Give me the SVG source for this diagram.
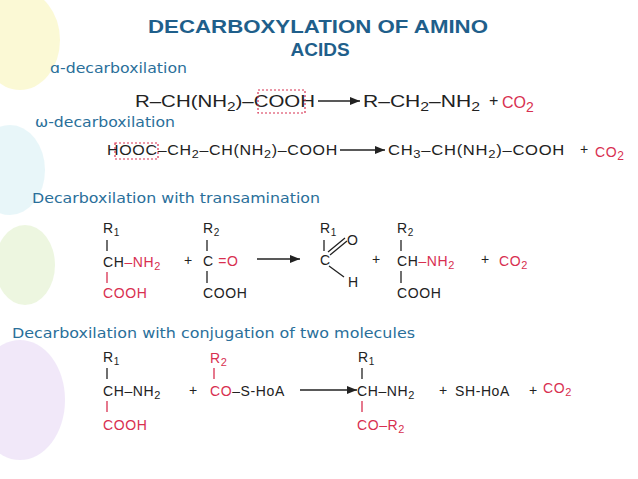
<svg xmlns="http://www.w3.org/2000/svg" width="638" height="479" viewBox="0 0 638 479">
<style>
.t{font-family:"Liberation Sans",Arial,sans-serif}
.title{font-size:19px;font-weight:bold;fill:#1f5f8b;text-anchor:middle}
.lab{font-family:"DejaVu Sans",sans-serif;font-size:13.5px;fill:#2a6f9a}
.f{font-size:16px;fill:#222}
.g{font-size:14px;fill:#222;letter-spacing:0.6px}
.r{fill:#d83050}
.k{stroke:#222;stroke-width:1.3;fill:none}
.kr{stroke:#d83050;stroke-width:1.3;fill:none}
.box{stroke:#d83050;stroke-width:1.2;stroke-dasharray:2 2;fill:none}
</style>
<defs><marker id="ah" markerWidth="10" markerHeight="8" refX="10" refY="4" orient="auto" markerUnits="userSpaceOnUse"><path d="M0,0 L10,4 L0,8z" fill="#222"/></marker></defs>
<rect width="638" height="479" fill="#fff"/>
<g id="bg" opacity="0.35">
<ellipse cx="20" cy="40" rx="40" ry="50" fill="#f6f08a"/>
<ellipse cx="10" cy="170" rx="35" ry="45" fill="#bfe8f0"/>
<ellipse cx="25" cy="265" rx="30" ry="40" fill="#cde8a8"/>
<ellipse cx="20" cy="400" rx="45" ry="60" fill="#d8c0f0"/>
</g>
<g id="title"><text class="t title" x="318" y="33" textLength="340" lengthAdjust="spacingAndGlyphs">DECARBOXYLATION OF AMINO</text><text class="t title" x="320" y="56">ACIDS</text></g>
<g id="labels">
<text class="lab" x="50" y="73" textLength="137" lengthAdjust="spacingAndGlyphs">ɑ-decarboxilation</text>
<text class="lab" x="35" y="127" textLength="140" lengthAdjust="spacingAndGlyphs">ω-decarboxilation</text>
<text class="lab" x="32" y="203" textLength="288" lengthAdjust="spacingAndGlyphs">Decarboxilation with transamination</text>
<text class="lab" x="12" y="338" textLength="403" lengthAdjust="spacingAndGlyphs">Decarboxilation with conjugation of two molecules</text>
</g>
<g id="r1">
<text class="t f" x="135" y="107" textLength="180" lengthAdjust="spacingAndGlyphs">R–CH(NH<tspan font-size="12" dy="4">2</tspan><tspan dy="-4">)–COOH</tspan></text>
<rect class="box" x="258" y="90" width="47" height="23"/>
<text class="t f" x="363" y="107" textLength="117" lengthAdjust="spacingAndGlyphs">R–CH<tspan font-size="12" dy="4">2</tspan><tspan dy="-4">–NH</tspan><tspan font-size="12" dy="4">2</tspan></text>
<text class="t f" x="489" y="106" font-size="12">+</text>
<text class="t f r" x="502" y="108" font-size="18">CO<tspan font-size="14" dy="4">2</tspan></text>
</g>
<g id="r2">
<text class="t g" x="107" y="155" textLength="231" lengthAdjust="spacingAndGlyphs">HOOC–CH<tspan font-size="11" dy="3">2</tspan><tspan dy="-3">–CH(NH</tspan><tspan font-size="11" dy="3">2</tspan><tspan dy="-3">)–COOH</tspan></text>
<rect class="box" x="115" y="143" width="43" height="16"/>
<text class="t g" x="388" y="155" textLength="177" lengthAdjust="spacingAndGlyphs">CH<tspan font-size="11" dy="3">3</tspan><tspan dy="-3">–CH(NH</tspan><tspan font-size="11" dy="3">2</tspan><tspan dy="-3">)–COOH</tspan></text>
<text class="t g" x="580" y="154" font-size="11">+</text>
<text class="t g r" x="595" y="157" font-size="16">CO<tspan font-size="12" dy="3">2</tspan></text>
</g>
<g id="r3">
<text class="t g" x="103" y="233">R<tspan font-size="10" dy="3">1</tspan></text>
<text class="t g" x="103" y="267">CH<tspan class="r">–NH<tspan font-size="11" dy="3">2</tspan></tspan></text>
<text class="t g r" x="103" y="298">COOH</text>
<text class="t g" x="184" y="265" font-size="11">+</text>
<text class="t g" x="203" y="233">R<tspan font-size="10" dy="3">2</tspan></text>
<text class="t g" x="203" y="266">C <tspan class="r">=O</tspan></text>
<text class="t g" x="203" y="298">COOH</text>
<text class="t g" x="320" y="233">R<tspan font-size="10" dy="3">1</tspan></text>
<text class="t g" x="320" y="265">C</text>
<text class="t g" x="347" y="245">O</text>
<text class="t g" x="348" y="287">H</text>
<text class="t g" x="372" y="264" font-size="11">+</text>
<text class="t g" x="397" y="233">R<tspan font-size="10" dy="3">2</tspan></text>
<text class="t g" x="397" y="266">CH<tspan class="r">–NH<tspan font-size="11" dy="3">2</tspan></tspan></text>
<text class="t g" x="397" y="298">COOH</text>
<text class="t g" x="481" y="264" font-size="11">+</text>
<text class="t g r" x="499" y="266" font-size="15">CO<tspan font-size="11" dy="3">2</tspan></text>
</g>
<g id="r4">
<text class="t g" x="103" y="362">R<tspan font-size="10" dy="3">1</tspan></text>
<text class="t g" x="103" y="396">CH–NH<tspan font-size="11" dy="3">2</tspan></text>
<text class="t g r" x="103" y="430">COOH</text>
<text class="t g" x="189" y="395" font-size="11">+</text>
<text class="t g r" x="210" y="363">R<tspan font-size="11" dy="3">2</tspan></text>
<text class="t g" x="210" y="396"><tspan class="r">CO</tspan>–S-HoA</text>
<text class="t g" x="358" y="362">R<tspan font-size="10" dy="3">1</tspan></text>
<text class="t g" x="357" y="396">CH–NH<tspan font-size="11" dy="3">2</tspan></text>
<text class="t g r" x="357" y="430">CO–R<tspan font-size="11" dy="3">2</tspan></text>
<text class="t g" x="439" y="395" font-size="11">+</text>
<text class="t g" x="455" y="396">SH-HoA</text>
<text class="t g" x="529" y="395" font-size="11">+</text>
<text class="t g r" x="543" y="393" font-size="15">CO<tspan font-size="11" dy="3">2</tspan></text>
</g>
<g id="connectors">
<line class="k" x1="318" y1="101" x2="360" y2="101" marker-end="url(#ah)"/>
<line class="k" x1="340" y1="150" x2="385" y2="150" marker-end="url(#ah)"/>
<line class="k" x1="257" y1="259" x2="300" y2="259" marker-end="url(#ah)"/>
<line class="k" x1="300" y1="390" x2="357" y2="390" marker-end="url(#ah)"/>
<line class="k" x1="107" y1="240" x2="107" y2="251"/>
<line class="kr" x1="107" y1="272" x2="107" y2="283"/>
<line class="k" x1="207" y1="240" x2="207" y2="251"/>
<line class="k" x1="207" y1="271" x2="207" y2="283"/>
<line class="k" x1="324" y1="240" x2="324" y2="251"/>
<path class="k" d="M328,252 L345,238 M330,255 L347,241 M329,266 L344,277"/>
<line class="k" x1="401" y1="240" x2="401" y2="251"/>
<line class="k" x1="401" y1="271" x2="401" y2="283"/>
<line class="k" x1="107" y1="368" x2="107" y2="379"/>
<line class="kr" x1="107" y1="401" x2="107" y2="412"/>
<line class="kr" x1="214" y1="368" x2="214" y2="379"/>
<line class="k" x1="362" y1="368" x2="362" y2="379"/>
<line class="kr" x1="362" y1="401" x2="362" y2="412"/>
</g>
</svg>
